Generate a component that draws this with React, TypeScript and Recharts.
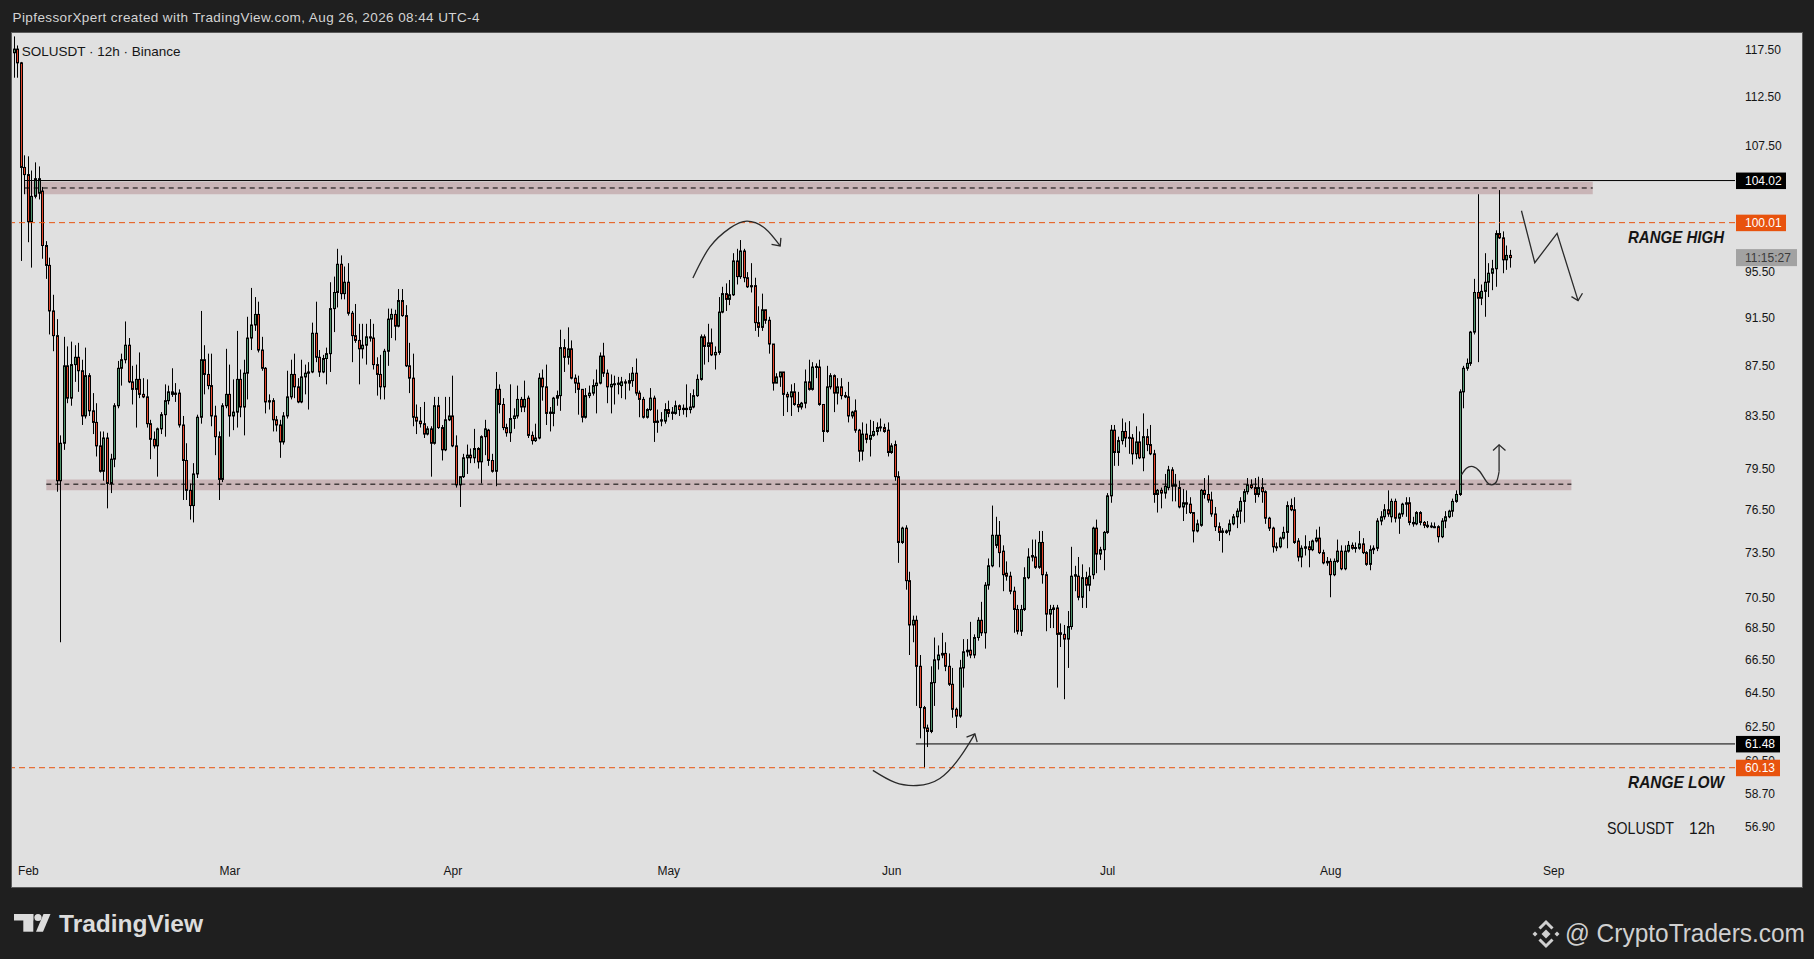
import React from "react";
import {
  Bar,
  ComposedChart,
  Line,
  ReferenceArea,
  ReferenceLine,
  XAxis,
  YAxis,
} from "recharts";

// SOLUSDT 12h (Binance). Time is in days from 1 Feb, one candle every 12 hours.
const FIRST_T = -2;
const STEP = 0.5;

const OPEN = [
  117.2, 117.6, 116.1, 105.3, 104.6, 100.1, 102.5, 102.8, 103.0, 97.9,
  96.1, 92.1, 90.0, 78.6, 81.4, 87.5, 84.9, 87.6, 88.2, 87.1,
  83.5, 86.7, 83.9, 83.0, 81.2, 79.3, 81.8, 78.4, 80.2, 84.3,
  87.3, 88.0, 89.2, 86.2, 85.6, 86.4, 85.2, 85.0, 82.9, 81.7,
  81.2, 82.5, 83.6, 84.7, 85.4, 85.2, 85.3, 82.8, 80.1, 77.9,
  76.8, 79.1, 83.4, 88.0, 86.8, 85.9, 83.5, 81.9, 78.7, 84.3,
  85.2, 83.5, 83.8, 86.4, 84.2, 86.9, 89.8, 90.9, 91.8, 88.8,
  87.3, 84.6, 84.7, 83.2, 82.8, 81.5, 83.5, 85.0, 86.8, 85.8,
  84.6, 86.6, 86.9, 87.0, 90.2, 88.2, 87.0, 88.1, 88.5, 92.3,
  93.7, 96.2, 93.6, 94.6, 91.9, 90.0, 89.6, 88.9, 89.2, 89.9,
  89.8, 87.6, 86.8, 85.8, 88.7, 91.4, 91.8, 90.8, 93.0, 91.7,
  87.5, 86.5, 83.4, 83.1, 82.9, 82.1, 82.5, 81.4, 84.3, 82.6,
  80.9, 83.2, 83.5, 81.2, 78.3, 78.9, 80.3, 80.5, 80.3, 81.0,
  80.0, 81.9, 82.4, 80.1, 79.3, 85.6, 84.4, 82.6, 82.2, 83.3,
  83.5, 84.8, 84.2, 84.9, 82.0, 81.6, 81.8, 86.5, 85.8, 83.7,
  83.7, 84.9, 85.1, 89.0, 88.2, 88.9, 86.5, 86.1, 85.6, 83.4,
  85.1, 85.3, 85.9, 86.1, 88.3, 86.9, 85.8, 86.0, 86.0, 85.9,
  86.2, 86.1, 86.3, 86.9, 85.3, 84.8, 83.4, 84.0, 84.9, 83.0,
  83.1, 83.1, 84.0, 83.7, 83.7, 84.3, 84.0, 84.0, 84.0, 84.2,
  85.1, 86.4, 89.9, 89.1, 89.4, 88.4, 88.6, 92.0, 93.6, 93.1,
  93.5, 96.5, 95.1, 97.4, 95.0, 94.2, 94.3, 91.1, 90.7, 92.2,
  91.3, 89.3, 86.1, 86.6, 87.0, 85.2, 85.0, 85.4, 84.4, 84.2,
  84.5, 86.2, 85.6, 87.4, 87.4, 84.4, 82.3, 85.8, 86.7, 85.3,
  85.8, 85.1, 85.0, 83.5, 83.9, 82.4, 80.8, 82.1, 81.7, 82.0,
  82.3, 82.6, 82.6, 82.4, 80.7, 81.3, 78.9, 74.2, 75.2, 71.6,
  68.7, 69.0, 66.1, 63.6, 62.4, 62.2, 65.1, 66.5, 66.8, 66.9,
  66.1, 65.0, 63.5, 63.1, 66.0, 67.0, 67.1, 66.8, 67.9, 69.0,
  68.2, 71.3, 72.6, 74.0, 74.7, 73.6, 72.1, 71.9, 70.9, 69.7,
  68.3, 69.7, 71.8, 73.2, 73.2, 72.5, 74.2, 72.0, 69.4, 69.7,
  69.8, 68.2, 68.1, 67.8, 68.6, 71.9, 71.9, 70.5, 71.8, 71.3,
  72.0, 75.2, 73.4, 73.7, 74.9, 77.5, 82.4, 80.7, 81.6, 82.3,
  81.8, 81.8, 80.6, 81.5, 80.3, 81.9, 81.3, 80.6, 77.6, 77.9,
  77.7, 78.1, 79.4, 78.2, 78.1, 76.7, 77.0, 76.9, 76.3, 75.0,
  75.4, 77.9, 77.6, 77.2, 76.2, 75.3, 75.0, 74.9, 75.0, 75.5,
  76.0, 76.4, 77.1, 77.8, 78.3, 78.1, 77.6, 78.1, 77.8, 75.9,
  75.2, 73.9, 73.9, 74.5, 74.9, 76.8, 76.5, 74.3, 73.2, 73.8,
  73.9, 73.7, 74.3, 74.5, 73.5, 72.8, 72.9, 72.0, 72.9, 73.6,
  72.4, 73.6, 74.0, 73.8, 73.8, 74.1, 73.5, 72.7, 73.7, 73.8,
  75.7, 76.0, 76.5, 76.0, 77.1, 75.9, 76.2, 76.9, 77.0, 75.6,
  75.5, 76.3, 75.6, 75.4, 75.3, 75.3, 75.3, 74.6, 75.7, 76.0,
  76.4, 77.1, 77.6, 85.4, 87.3, 87.7, 90.3, 93.7, 93.2, 93.8,
  94.6, 95.4, 95.8, 99.0, 98.6, 96.6, 97.0,
];

const HIGH = [
  119.0, 118.0, 116.2, 106.5, 106.4, 105.0, 105.8, 105.4, 103.4, 98.3,
  96.8, 93.5, 91.4, 82.0, 89.9, 89.1, 89.5, 89.2, 89.4, 88.0,
  89.0, 86.9, 85.3, 84.5, 82.3, 82.3, 82.2, 80.6, 84.5, 87.9,
  88.5, 91.2, 89.8, 87.5, 87.6, 88.6, 86.5, 86.4, 83.2, 82.3,
  82.6, 83.8, 86.0, 85.9, 87.3, 86.1, 85.6, 83.5, 81.4, 78.4,
  79.9, 83.6, 92.1, 89.2, 88.5, 88.5, 84.3, 82.3, 84.5, 88.9,
  87.6, 86.4, 90.4, 87.2, 88.0, 91.6, 94.1, 93.3, 92.9, 89.9,
  87.4, 85.2, 84.9, 83.5, 83.2, 83.8, 87.1, 88.0, 88.5, 86.5,
  88.0, 87.6, 87.8, 91.1, 92.9, 88.8, 88.4, 89.0, 94.6, 95.1,
  97.6, 97.0, 96.0, 96.3, 92.1, 92.7, 91.0, 91.0, 91.0, 91.4,
  91.0, 88.2, 88.4, 88.9, 92.3, 92.3, 92.2, 94.0, 94.0, 92.6,
  89.4, 88.5, 84.4, 84.2, 84.6, 82.7, 82.7, 85.0, 85.0, 82.8,
  85.0, 85.0, 86.7, 82.0, 78.9, 80.6, 81.3, 81.0, 82.5, 81.1,
  82.0, 83.2, 82.5, 80.6, 87.0, 86.0, 84.9, 82.9, 86.0, 84.1,
  85.9, 85.0, 86.3, 85.1, 82.3, 82.9, 86.9, 87.2, 87.6, 84.2,
  85.0, 85.5, 90.5, 89.7, 90.7, 89.6, 86.8, 86.7, 85.6, 85.7,
  85.9, 86.4, 87.2, 88.6, 89.4, 87.2, 86.8, 86.7, 86.6, 86.6,
  86.4, 86.9, 87.4, 88.1, 85.5, 85.0, 84.1, 85.7, 85.1, 84.0,
  83.8, 84.5, 84.7, 84.2, 84.7, 84.4, 84.4, 86.0, 85.3, 85.6,
  86.8, 90.1, 90.1, 91.0, 90.6, 89.1, 93.3, 94.2, 94.5, 94.8,
  97.2, 97.6, 98.4, 97.6, 95.5, 96.3, 95.0, 92.5, 93.6, 92.2,
  91.6, 89.3, 86.9, 87.0, 87.0, 85.4, 86.0, 86.1, 85.4, 84.6,
  87.2, 88.0, 87.8, 87.7, 88.0, 84.4, 87.5, 86.9, 86.8, 86.5,
  86.5, 85.4, 86.2, 83.9, 84.8, 82.5, 83.0, 82.9, 83.2, 83.1,
  83.0, 83.3, 82.9, 83.0, 81.4, 81.6, 79.3, 75.3, 75.4, 72.2,
  69.3, 69.3, 66.8, 63.7, 62.6, 66.1, 67.9, 67.4, 68.2, 67.6,
  66.9, 66.0, 63.6, 66.5, 67.8, 67.8, 68.9, 68.1, 69.2, 70.2,
  71.5, 73.1, 76.8, 76.0, 75.7, 74.0, 72.9, 72.2, 71.2, 70.0,
  70.0, 72.5, 73.8, 74.4, 74.4, 75.0, 75.0, 72.2, 70.0, 70.0,
  70.0, 68.8, 68.7, 69.6, 73.9, 72.6, 73.2, 72.7, 72.2, 72.5,
  75.3, 75.8, 73.9, 75.0, 77.7, 82.8, 82.8, 81.9, 83.3, 83.0,
  83.1, 82.1, 82.7, 82.3, 83.7, 82.5, 82.8, 80.9, 78.0, 78.1,
  79.1, 79.7, 79.6, 79.1, 78.6, 78.0, 77.9, 77.4, 76.3, 75.8,
  78.0, 78.8, 79.0, 77.8, 76.7, 75.6, 75.2, 75.1, 75.8, 76.2,
  76.6, 77.4, 78.0, 78.8, 78.7, 78.8, 78.9, 78.8, 77.9, 76.0,
  75.3, 74.2, 74.6, 75.3, 77.1, 77.3, 77.4, 74.5, 74.0, 74.7,
  74.3, 74.4, 75.1, 75.3, 73.7, 73.2, 73.1, 73.1, 74.4, 74.0,
  74.0, 74.3, 74.2, 74.2, 75.0, 74.5, 73.6, 74.0, 74.0, 75.9,
  76.4, 76.9, 77.9, 77.3, 77.3, 76.3, 77.0, 77.4, 77.4, 76.0,
  76.4, 76.4, 75.7, 75.7, 75.6, 75.6, 75.4, 75.9, 76.4, 76.5,
  77.3, 77.9, 85.6, 87.5, 88.1, 90.4, 94.9, 102.7, 94.4, 97.2,
  96.3, 96.6, 99.3, 103.1, 99.2, 97.9, 97.5,
];

const LOW = [
  114.5, 114.5, 96.5, 102.7, 98.2, 95.9, 102.3, 102.2, 96.7, 94.9,
  90.1, 88.7, 77.8, 67.6, 80.9, 84.5, 84.3, 86.2, 85.4, 82.8,
  83.3, 83.5, 82.1, 80.4, 79.2, 78.6, 76.6, 77.7, 79.6, 84.1,
  85.9, 87.7, 86.1, 84.4, 82.6, 84.9, 84.9, 82.6, 80.2, 81.0,
  78.9, 82.1, 81.9, 84.4, 85.0, 84.6, 82.6, 77.2, 77.2, 75.8,
  75.6, 78.8, 82.9, 85.2, 85.6, 82.7, 80.5, 77.2, 78.5, 84.1,
  81.9, 82.4, 82.6, 83.4, 82.0, 84.8, 88.8, 90.4, 88.6, 87.1,
  83.7, 84.0, 82.3, 82.3, 80.3, 81.3, 83.3, 84.8, 84.9, 84.5,
  84.5, 85.2, 84.0, 86.9, 87.8, 86.6, 86.9, 86.0, 87.0, 90.3,
  92.4, 93.1, 93.1, 91.7, 87.8, 89.4, 86.0, 88.1, 87.6, 89.5,
  87.2, 85.1, 84.8, 84.8, 87.5, 89.8, 89.6, 90.7, 91.6, 87.4,
  85.3, 82.7, 82.1, 82.6, 81.8, 82.0, 78.9, 81.3, 82.5, 80.1,
  80.8, 83.1, 81.1, 78.1, 76.7, 78.8, 79.1, 79.9, 79.9, 79.5,
  78.4, 80.5, 79.7, 79.2, 78.2, 83.7, 82.4, 81.9, 81.5, 82.5,
  83.3, 83.8, 83.8, 81.8, 81.3, 81.5, 81.7, 84.7, 82.8, 82.3,
  82.7, 84.3, 83.9, 87.0, 87.6, 86.4, 85.3, 83.6, 83.0, 83.3,
  84.9, 85.1, 83.7, 86.0, 86.6, 84.5, 83.7, 84.4, 85.2, 84.9,
  84.8, 85.5, 85.8, 85.1, 83.4, 83.3, 83.3, 83.9, 81.5, 82.2,
  82.7, 82.9, 83.4, 83.2, 83.6, 83.5, 83.6, 83.4, 83.7, 84.1,
  85.0, 86.3, 87.6, 87.8, 88.3, 87.2, 88.4, 91.9, 92.1, 92.6,
  93.4, 94.4, 94.9, 94.6, 94.1, 93.7, 90.4, 89.9, 90.4, 91.0,
  88.5, 85.5, 86.1, 85.8, 83.5, 83.8, 83.5, 84.3, 83.8, 84.0,
  84.1, 85.5, 85.5, 86.5, 84.3, 81.5, 82.2, 85.6, 83.8, 84.4,
  84.8, 84.9, 83.0, 83.3, 82.2, 80.0, 80.1, 81.4, 80.4, 81.9,
  82.0, 82.3, 82.2, 80.4, 80.6, 78.6, 72.8, 74.1, 71.0, 66.8,
  67.6, 63.7, 61.8, 60.1, 61.3, 62.1, 63.7, 65.9, 66.6, 65.8,
  64.9, 63.0, 62.4, 63.0, 64.8, 66.7, 66.6, 66.6, 67.7, 68.0,
  67.2, 71.0, 72.5, 73.8, 72.5, 70.9, 71.6, 70.7, 68.2, 68.1,
  68.0, 69.6, 71.7, 72.9, 72.4, 72.4, 71.4, 68.3, 68.5, 68.5,
  64.8, 67.3, 64.1, 66.0, 68.4, 70.9, 70.3, 69.8, 69.8, 70.9,
  71.7, 72.1, 73.0, 72.3, 74.8, 77.0, 79.7, 79.7, 81.3, 81.1,
  80.6, 79.8, 80.2, 80.2, 79.3, 80.8, 80.5, 77.0, 76.3, 76.6,
  77.3, 77.9, 77.1, 77.1, 76.6, 75.7, 76.2, 76.2, 74.2, 74.9,
  75.3, 77.3, 77.0, 76.0, 75.0, 74.3, 73.5, 74.8, 74.7, 75.4,
  75.2, 75.5, 75.6, 77.6, 78.0, 77.0, 77.4, 77.0, 75.5, 75.0,
  73.5, 73.6, 73.8, 74.4, 73.8, 76.4, 74.1, 72.9, 72.5, 73.3,
  72.5, 73.6, 74.2, 73.4, 72.7, 72.6, 70.5, 71.9, 72.8, 72.3,
  72.3, 73.5, 73.7, 73.5, 73.7, 73.4, 72.6, 72.3, 73.4, 73.6,
  75.4, 75.8, 76.0, 75.6, 75.6, 74.8, 76.0, 76.0, 75.4, 75.3,
  75.4, 75.4, 75.2, 75.2, 75.2, 75.2, 74.2, 74.5, 75.2, 75.9,
  76.0, 77.0, 77.5, 84.1, 87.1, 87.5, 90.1, 87.8, 92.6, 91.6,
  93.3, 93.9, 94.2, 98.5, 95.4, 95.7, 95.9,
];

const CLOSE = [
  117.6, 116.1, 105.3, 104.6, 100.1, 102.5, 104.2, 104.2, 97.9, 96.1,
  92.1, 90.0, 78.6, 81.4, 87.5, 84.9, 87.6, 88.2, 87.1, 83.5,
  86.7, 83.9, 83.0, 81.2, 79.3, 81.8, 78.4, 80.2, 84.3, 87.3,
  88.0, 89.2, 86.2, 85.6, 86.4, 85.2, 85.0, 82.9, 81.7, 81.2,
  82.5, 83.6, 84.7, 85.4, 85.2, 85.3, 82.8, 80.1, 77.9, 76.8,
  79.1, 83.4, 88.0, 86.8, 85.9, 83.5, 81.9, 78.7, 84.3, 85.2,
  83.5, 83.8, 86.4, 84.2, 86.9, 89.8, 90.9, 91.8, 88.8, 87.3,
  84.6, 84.7, 83.2, 82.8, 81.5, 83.5, 85.0, 86.8, 85.8, 84.6,
  86.6, 86.9, 87.0, 90.2, 88.2, 87.0, 88.1, 88.5, 92.3, 93.7,
  96.2, 93.6, 94.6, 91.9, 90.0, 89.6, 88.9, 89.2, 89.9, 89.8,
  87.6, 86.8, 85.8, 88.7, 91.4, 91.8, 90.8, 93.0, 91.7, 87.5,
  86.5, 83.4, 83.1, 82.9, 82.1, 82.5, 81.4, 84.3, 82.6, 80.9,
  83.2, 83.5, 81.2, 78.3, 78.9, 80.3, 80.5, 80.3, 81.0, 80.0,
  81.9, 82.5, 80.1, 79.3, 85.6, 84.4, 82.6, 82.2, 83.3, 83.5,
  84.8, 84.2, 84.8, 82.0, 81.6, 81.8, 86.5, 85.8, 83.7, 83.8,
  84.9, 85.1, 89.0, 88.2, 88.9, 86.5, 86.1, 85.6, 83.4, 85.1,
  85.3, 85.9, 86.1, 88.3, 86.9, 85.8, 86.0, 86.05, 86.1, 86.2,
  86.1, 86.3, 86.9, 85.3, 84.8, 83.4, 84.0, 84.9, 83.0, 83.1,
  83.2, 84.0, 83.7, 83.8, 84.3, 84.0, 84.1, 84.1, 84.2, 85.1,
  86.4, 89.9, 89.1, 89.4, 88.4, 88.6, 92.0, 93.6, 93.1, 93.5,
  96.5, 95.1, 97.4, 95.0, 94.2, 94.3, 91.1, 90.7, 92.2, 91.3,
  89.3, 86.1, 86.6, 87.0, 85.2, 85.0, 85.4, 84.4, 84.2, 84.5,
  86.2, 85.6, 87.4, 87.45, 84.4, 82.3, 85.8, 86.7, 85.3, 85.8,
  85.1, 85.0, 83.5, 83.8, 82.4, 80.8, 82.1, 81.7, 82.0, 82.3,
  82.6, 82.65, 82.3, 80.7, 81.2, 78.9, 74.2, 75.2, 71.6, 68.7,
  69.0, 66.1, 63.6, 62.4, 62.2, 65.1, 66.5, 66.8, 66.9, 66.1,
  65.0, 63.5, 63.1, 66.0, 67.0, 67.1, 66.8, 67.9, 69.0, 68.2,
  71.3, 72.6, 74.7, 74.7, 73.5, 72.0, 71.9, 70.9, 69.7, 68.3,
  69.7, 71.8, 73.2, 73.3, 72.5, 74.2, 72.0, 69.4, 69.7, 69.8,
  68.1, 68.1, 67.8, 68.6, 71.9, 72.0, 70.5, 71.8, 71.3, 71.9,
  75.2, 73.4, 73.7, 74.9, 77.5, 82.4, 80.7, 81.6, 82.3, 81.8,
  81.85, 80.6, 81.5, 80.3, 81.9, 81.3, 80.6, 77.6, 77.9, 77.7,
  78.2, 79.4, 78.2, 78.3, 76.7, 77.0, 76.9, 76.3, 75.0, 75.5,
  77.9, 77.6, 77.2, 76.2, 75.3, 74.9, 74.9, 75.0, 75.5, 76.0,
  76.4, 77.1, 77.8, 78.3, 78.1, 77.6, 78.1, 77.8, 75.9, 75.2,
  73.9, 73.85, 74.5, 74.9, 76.8, 76.5, 74.2, 73.2, 73.8, 73.9,
  73.7, 74.3, 74.5, 73.5, 72.8, 72.9, 72.0, 72.9, 73.6, 72.4,
  73.6, 74.0, 73.8, 73.85, 74.1, 73.5, 72.7, 73.7, 73.8, 75.7,
  76.0, 76.5, 76.2, 77.1, 75.9, 76.2, 76.9, 77.0, 75.6, 75.5,
  76.3, 75.6, 75.4, 75.3, 75.35, 75.3, 74.6, 75.7, 76.0, 76.4,
  77.1, 77.6, 85.4, 87.3, 87.7, 90.3, 93.7, 93.2, 93.8, 94.6,
  95.4, 95.8, 99.0, 98.6, 96.6, 97.0, 96.8,
];

const MONTH_T = [0, 28, 59, 89, 120, 150, 181, 212];
const MONTH_LABELS = ["Feb", "Mar", "Apr", "May", "Jun", "Jul", "Aug", "Sep"];
// the scale labels that sit fully behind the 104.02 / 100.01 tags are left out
const PRICE_TICKS = [
  56.9, 58.7, 60.5, 62.5, 64.5, 66.5, 68.5, 70.5, 73.5, 76.5, 79.5, 83.5,
  87.5, 91.5, 95.5, 107.5, 112.5, 117.5,
];
const X_DOMAIN = [-2.28, 237.2];
const Y_DOMAIN = [55.27, 119.38];

// levels drawn on the chart
const RESISTANCE = 104.02;
const RESISTANCE_FROM_T = -0.61;
const SUPPORT = 61.48;
const SUPPORT_FROM_T = 123.35;
const RANGE_HIGH = 100.01;
const RANGE_LOW = 60.13;
const TOP_ZONE = [102.7, 103.9];
const TOP_ZONE_MID = 103.3;
const TOP_ZONE_T = [-0.51, 217.43];
const MID_ZONE = [77.9, 78.7];
const MID_ZONE_MID = 78.35;
const MID_ZONE_T = [2.49, 214.46];
const COUNTDOWN = "11:15:27";

// hand-drawn arrows (time, price)
const ARC_TOP_T = [92.36, 94.72, 97.5, 99.86, 102.36, 104.49];
const ARC_TOP_P = [94.98, 97.77, 99.5, 100.16, 99.5, 97.86];
const ARC_TOP_HEAD_T = [103.29, 104.49, 104.59];
const ARC_TOP_HEAD_P = [98.0, 97.86, 98.6];
const ARC_LOW_T = [117.37, 120.43, 123.49, 126.68, 129.46, 131.55];
const ARC_LOW_P = [59.98, 59.31, 59.14, 59.53, 60.71, 62.06];
const ARC_LOW_HEAD_T = [130.39, 131.55, 131.87];
const ARC_LOW_HEAD_P = [61.87, 62.06, 61.58];
const WAVE_T = [199.18, 199.88, 200.79, 201.73, 202.66, 203.35, 204.05, 204.41];
const WAVE_P = [79.03, 79.53, 79.65, 79.28, 78.54, 78.3, 78.54, 79.28];
const WAVE_STEM_T = [204.41, 204.41];
const WAVE_STEM_P = [79.28, 81.28];
const WAVE_HEAD_T = [203.57, 204.41, 205.3];
const WAVE_HEAD_P = [80.85, 81.28, 80.85];
const ZIGZAG_T = [207.52, 209.37, 212.47, 215.39];
const ZIGZAG_P = [101.13, 96.34, 99.02, 92.99];
const ZIGZAG_HEAD_T = [214.47, 215.39, 216.0];
const ZIGZAG_HEAD_P = [93.34, 92.99, 93.63];

const FONT = '"Liberation Sans", Arial, sans-serif';
const TEXT = "#151515";
const GREEN = "#4f936c";
const RED = "#e5472d";
const ORANGE = "#e8530e";
const ZONE = "#c9b5b7";
const INK = "#2a2a2a";
const CHART_W = 1790;
const CHART_H = 854;
const MARGIN = { top: 0, right: 0, bottom: 0, left: 0 };

const candles = CLOSE.map((c, i) => ({
  t: FIRST_T + i * STEP,
  o: OPEN[i],
  h: HIGH[i],
  l: LOW[i],
  c,
}));

const pts = (T: number[], P: number[]) => T.map((t, i) => ({ t, p: P[i] }));

function Candle(props: any) {
  const { x, y, width, height, payload } = props;
  if (payload == null || x == null || y == null) return null;
  const top = Math.min(y, y + height);
  const bot = Math.max(y, y + height);
  const { o, h, l, c } = payload;
  const span = Math.log(h) - Math.log(l);
  const py = (v: number) =>
    span > 0 ? top + ((Math.log(h) - Math.log(v)) / span) * (bot - top) : top;
  const cx = Math.floor(x + width / 2) + 0.5;
  const yo = py(o);
  const yc = py(c);
  const bTop = Math.min(yo, yc);
  const bH = Math.max(Math.abs(yo - yc), 1);
  return (
    <g>
      <line x1={cx} x2={cx} y1={top} y2={bot} stroke="#000" strokeWidth={1} />
      <rect
        x={cx - 1}
        y={bTop}
        width={2}
        height={bH}
        fill={c >= o ? GREEN : RED}
        stroke="#000"
        strokeWidth={1}
      />
    </g>
  );
}

// price tag on the right scale, optional caption under the line
const tag =
  (text: string, bg: string, w: number, caption?: string) => (p: any) => {
    const vb = p.viewBox ?? {};
    const right = vb.x + vb.width;
    const y = vb.y;
    return (
      <g>
        {caption && (
          <text
            x={right - 11}
            y={y + 20}
            textAnchor="end"
            fontSize={16.5}
            fontWeight={700}
            fontStyle="italic"
            fill={TEXT}
            fontFamily={FONT}
            textLength={96}
            lengthAdjust="spacingAndGlyphs"
          >
            {caption}
          </text>
        )}
        <rect x={right + 1} y={y - 8} width={w} height={16.5} fill={bg} />
        <text x={right + 10} y={y + 4.3} fontSize={12} fill="#fff" fontFamily={FONT}>
          {text}
        </text>
      </g>
    );
  };

const countdownTag = (p: any) => {
  const vb = p.viewBox ?? {};
  const right = vb.x + vb.width;
  const y = vb.y;
  return (
    <g>
      <rect x={right + 1} y={y - 8.5} width={61} height={17} fill="#a2a2a2" />
      <text x={right + 10} y={y + 4.3} fontSize={12} fill="#3a3a3a" fontFamily={FONT}>
        {COUNTDOWN}
      </text>
    </g>
  );
};

const inkLine = (data: { t: number; p: number }[], key: string, curved: boolean) => (
  <Line
    key={key}
    data={data}
    dataKey="p"
    type={curved ? "natural" : "linear"}
    stroke={INK}
    strokeWidth={1.3}
    dot={false}
    activeDot={false}
    isAnimationActive={false}
  />
);

export default function App() {
  return (
    <div
      style={{
        position: "relative",
        width: 1814,
        height: 959,
        background: "#1f1f1f",
        overflow: "hidden",
        fontFamily: FONT,
      }}
    >
      <style>{"body{margin:0;background:#1f1f1f}"}</style>
      <div
        style={{
          position: "absolute",
          left: 11,
          top: 32,
          width: 1792,
          height: 856,
          background: "#e0e0e0",
          border: "1px solid #5a5a5a",
          boxSizing: "border-box",
        }}
      />
      <div style={{ position: "absolute", left: 12, top: 33 }}>
        <ComposedChart width={CHART_W} height={CHART_H} data={candles} margin={MARGIN}>
          <XAxis
            dataKey="t"
            type="number"
            domain={X_DOMAIN}
            allowDataOverflow
            ticks={MONTH_T}
            interval={0}
            tickFormatter={(v: number) => MONTH_LABELS[MONTH_T.indexOf(v)] ?? ""}
            axisLine={false}
            tickLine={false}
            tickSize={0}
            tickMargin={8.5}
            height={29}
            tick={{ fill: TEXT, fontSize: 12, fontFamily: FONT }}
          />
          <YAxis
            orientation="right"
            scale="log"
            domain={Y_DOMAIN}
            allowDataOverflow
            ticks={PRICE_TICKS}
            interval={0}
            tickFormatter={(v: number) => v.toFixed(2)}
            width={67}
            axisLine={false}
            tickLine={false}
            tickSize={0}
            tickMargin={10}
            tick={{ fill: TEXT, fontSize: 12, fontFamily: FONT }}
          />
          <ReferenceArea
            x1={TOP_ZONE_T[0]}
            x2={TOP_ZONE_T[1]}
            y1={TOP_ZONE[0]}
            y2={TOP_ZONE[1]}
            fill={ZONE}
            fillOpacity={1}
            stroke="none"
          />
          <ReferenceArea
            x1={MID_ZONE_T[0]}
            x2={MID_ZONE_T[1]}
            y1={MID_ZONE[0]}
            y2={MID_ZONE[1]}
            fill={ZONE}
            fillOpacity={1}
            stroke="none"
          />
          <ReferenceLine
            segment={[
              { x: TOP_ZONE_T[0], y: TOP_ZONE_MID },
              { x: TOP_ZONE_T[1], y: TOP_ZONE_MID },
            ]}
            stroke="#000"
            strokeDasharray="5 4"
          />
          <ReferenceLine
            segment={[
              { x: MID_ZONE_T[0], y: MID_ZONE_MID },
              { x: MID_ZONE_T[1], y: MID_ZONE_MID },
            ]}
            stroke="#000"
            strokeDasharray="5 4"
          />
          <ReferenceLine y={RANGE_HIGH} stroke={ORANGE} strokeDasharray="6 4" />
          <ReferenceLine y={RANGE_LOW} stroke={ORANGE} strokeDasharray="6 4" />
          <ReferenceLine
            segment={[
              { x: RESISTANCE_FROM_T, y: RESISTANCE },
              { x: X_DOMAIN[1], y: RESISTANCE },
            ]}
            stroke="#000"
          />
          <ReferenceLine
            segment={[
              { x: SUPPORT_FROM_T, y: SUPPORT },
              { x: X_DOMAIN[1], y: SUPPORT },
            ]}
            stroke="#000"
          />
          <Bar
            dataKey={(d: any) => [d.l, d.h]}
            barSize={3}
            shape={<Candle />}
            isAnimationActive={false}
          />
          {inkLine(pts(ARC_TOP_T, ARC_TOP_P), "arcTop", true)}
          {inkLine(pts(ARC_TOP_HEAD_T, ARC_TOP_HEAD_P), "arcTopHead", false)}
          {inkLine(pts(ARC_LOW_T, ARC_LOW_P), "arcLow", true)}
          {inkLine(pts(ARC_LOW_HEAD_T, ARC_LOW_HEAD_P), "arcLowHead", false)}
          {inkLine(pts(WAVE_T, WAVE_P), "wave", true)}
          {inkLine(pts(WAVE_STEM_T, WAVE_STEM_P), "waveStem", false)}
          {inkLine(pts(WAVE_HEAD_T, WAVE_HEAD_P), "waveHead", false)}
          {inkLine(pts(ZIGZAG_T, ZIGZAG_P), "zigzag", false)}
          {inkLine(pts(ZIGZAG_HEAD_T, ZIGZAG_HEAD_P), "zigzagHead", false)}
        </ComposedChart>
      </div>
      {/* same scales again, on top, so the level tags cover the scale labels */}
      <div style={{ position: "absolute", left: 12, top: 33, pointerEvents: "none" }}>
        <ComposedChart width={CHART_W} height={CHART_H} data={candles} margin={MARGIN}>
          <XAxis
            dataKey="t"
            type="number"
            domain={X_DOMAIN}
            allowDataOverflow
            height={29}
            tick={false}
            axisLine={false}
            tickLine={false}
          />
          <YAxis
            orientation="right"
            scale="log"
            domain={Y_DOMAIN}
            allowDataOverflow
            width={67}
            tick={false}
            axisLine={false}
            tickLine={false}
          />
          <ReferenceLine
            y={RANGE_HIGH}
            stroke="none"
            label={tag(RANGE_HIGH.toFixed(2), ORANGE, 50, "RANGE HIGH")}
          />
          <ReferenceLine
            y={RANGE_LOW}
            stroke="none"
            label={tag(RANGE_LOW.toFixed(2), ORANGE, 44, "RANGE LOW")}
          />
          <ReferenceLine
            segment={[
              { x: RESISTANCE_FROM_T, y: RESISTANCE },
              { x: X_DOMAIN[1], y: RESISTANCE },
            ]}
            stroke="none"
            label={tag(RESISTANCE.toFixed(2), "#000", 50)}
          />
          <ReferenceLine
            segment={[
              { x: SUPPORT_FROM_T, y: SUPPORT },
              { x: X_DOMAIN[1], y: SUPPORT },
            ]}
            stroke="none"
            label={tag(SUPPORT.toFixed(2), "#000", 44)}
          />
          <ReferenceLine y={CLOSE[CLOSE.length - 1]} stroke="none" label={countdownTag} />
        </ComposedChart>
      </div>
      <svg
        width={1814}
        height={959}
        style={{ position: "absolute", left: 0, top: 0, pointerEvents: "none" }}
        fontFamily={FONT}
      >
        <text x={12.5} y={22.3} fontSize={13.5} fill="#d4d4d4" textLength={467}>
          PipfessorXpert created with TradingView.com, Aug 26, 2026 08:44 UTC-4
        </text>
        <text x={21.8} y={56} fontSize={13.5} fill={TEXT}>
          SOLUSDT · 12h · Binance
        </text>
        <text x={1607} y={834} fontSize={17} fill={TEXT} textLength={67} lengthAdjust="spacingAndGlyphs">
          SOLUSDT
        </text>
        <text x={1689} y={834} fontSize={17} fill={TEXT} textLength={26} lengthAdjust="spacingAndGlyphs">
          12h
        </text>
        {/* TradingView logo */}
        <g fill="#dcdcdc">
          <rect x={14} y={914} width={19.3} height={6.5} />
          <rect x={23.3} y={914} width={10} height={17.7} />
          <circle cx={38} cy={917.5} r={3.6} />
          <polygon points="43.5,914 50.5,914 43,931.7 36,931.7" />
          <text x={59} y={931.7} fontSize={24.7} fontWeight={700} textLength={144} lengthAdjust="spacingAndGlyphs">
            TradingView
          </text>
        </g>
        {/* watermark */}
        <g fill="#d0d0d0" stroke="none">
          <polygon points="1546,929.5 1550.5,934 1546,938.5 1541.5,934" />
          <polygon points="1535,931.5 1537.5,934 1535,936.5 1532.5,934" />
          <polygon points="1557,931.5 1559.5,934 1557,936.5 1554.5,934" />
          <polyline points="1539.5,928.5 1546,922 1552.5,928.5" fill="none" stroke="#d0d0d0" strokeWidth={3} />
          <polyline points="1539.5,939.5 1546,946 1552.5,939.5" fill="none" stroke="#d0d0d0" strokeWidth={3} />
          <text x={1565} y={941.5} fontSize={25.5} textLength={240} lengthAdjust="spacingAndGlyphs">
            @ CryptoTraders.com
          </text>
        </g>
      </svg>
    </div>
  );
}
